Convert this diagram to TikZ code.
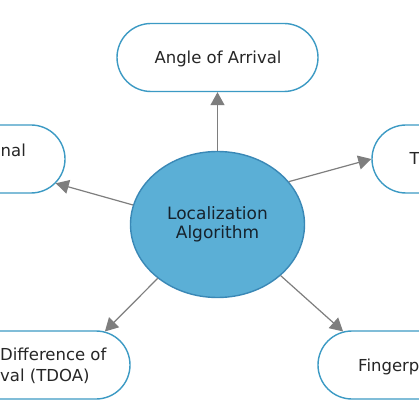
\documentclass[tikz,border=0pt]{standalone}
\usepackage{fontspec}
\setmainfont{DejaVu Sans}
\usetikzlibrary{shapes.geometric,shapes.misc,arrows.meta}
\definecolor{ringblue}{HTML}{3C9AC4}
\definecolor{ellfill}{HTML}{5BAFD6}
\definecolor{ellline}{HTML}{3A88B6}
\definecolor{arrowgray}{HTML}{7E7E7E}
\definecolor{txt}{HTML}{262626}
\definecolor{elltxt}{HTML}{16222C}
\begin{document}
\begin{tikzpicture}[x=1pt,y=-1pt,
  pill/.style={rounded rectangle, draw=ringblue, line width=1.4pt, fill=white, minimum height=68pt, inner sep=0pt},
  lbl/.style={font=\fontsize{16.5}{21}\selectfont, text=txt, inner sep=0pt},
  conn/.style={draw=arrowgray, line width=1.2pt, -{Triangle[length=13pt,width=14pt]}}]
\useasboundingbox (0,0) rectangle (419,419);
\clip (0,0) rectangle (419,419);
\fill[white] (0,0) rectangle (419,419);
% outer nodes
\node[pill, minimum width=201pt] (top) at (217.5,57.5) {};
\node[pill, minimum width=200pt] (left) at (-35,159) {};
\node[pill, minimum width=200pt] (right) at (472,159) {};
\node[pill, minimum width=194pt] (bl) at (33,365) {};
\node[pill, minimum width=194pt] (br) at (415,365) {};
% labels
\node[lbl, anchor=base] (toptxt) at (218,64) {Angle of Arrival};
\node[lbl, anchor=base west] (lefttxt) at (0.5,156.7) {nal};
\node[lbl, anchor=base west] (righttxt) at (409.5,165) {T};
\node[lbl, anchor=base west] (bltxta) at (0,360.7) {Difference of};
\node[lbl, anchor=base west] (bltxtb) at (0,381.7) {val (TDOA)};
\node[lbl, anchor=base west] (brtxt) at (358,371.7) {Fingerp};
% centre
\node[ellipse, draw=ellline, line width=1.4pt, fill=ellfill, minimum width=174pt, minimum height=146pt, inner sep=0pt,
      align=center, text=elltxt, font=\fontsize{17}{19.3}\selectfont] (ell) at (217.5,224.5) {Localization\\Algorithm};
% connectors
\draw[conn] (ell.90) -- (top.south);
\draw[conn] (ell.167) -- (left.-15);
\draw[conn] (ell.31) -- (right.west);
\draw[conn] (ell.222) -- (bl.25);
\draw[conn] (ell.-39) -- (br.155);
\end{tikzpicture}
\end{document}
